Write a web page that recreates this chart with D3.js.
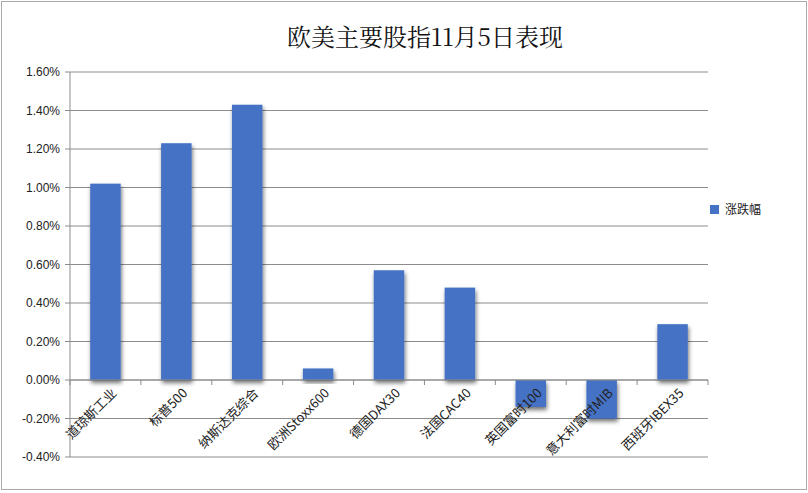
<!DOCTYPE html><html><head><meta charset="utf-8"><script src="https://cdn.jsdelivr.net/npm/d3@7"></script>
<style>body{margin:0;background:#fff}</style></head><body><svg id="c" width="808" height="493"></svg>
<script>
const categories=["道琼斯工业","标普500","纳斯达克综合","欧洲Stoxx600","德国DAX30","法国CAC40","英国富时100","意大利富时MIB","西班牙IBEX35"];
const values=[1.02,1.23,1.43,0.06,0.57,0.48,-0.14,-0.20,0.29];
const yTicks=[-0.4,-0.2,0,0.2,0.4,0.6,0.8,1.0,1.2,1.4,1.6];
const svg=d3.select("#c");
svg.append("rect").attr("x",1.5).attr("y",1.5).attr("width",805).attr("height",488).attr("fill","#fff").attr("stroke","#aaa");
const defs=svg.append("defs");
const f=defs.append("filter").attr("id","sh").attr("x","-20%").attr("y","-20%").attr("width","150%").attr("height","150%");
f.append("feDropShadow").attr("dx",1).attr("dy",3).attr("stdDeviation",2).attr("flood-color","#000").attr("flood-opacity",0.55);
const x=d3.scaleBand().domain(categories).range([70,708]).paddingInner(0.57).paddingOuter(0.285);
const y=d3.scaleLinear().domain([-0.4,1.6]).range([457,72]);
const grid=svg.append("g");
grid.selectAll("line").data(yTicks).join("line").attr("x1",65).attr("x2",708).attr("y1",d=>y(d)).attr("y2",d=>y(d)).attr("stroke","#8c8c8c").attr("stroke-width",1);
svg.append("line").attr("x1",70).attr("x2",70).attr("y1",72).attr("y2",457).attr("stroke","#8c8c8c");
svg.append("g").selectAll("text").data(yTicks).join("text").attr("x",60).attr("y",d=>y(d)+4).attr("text-anchor","end")
 .attr("font-family","Liberation Sans, Arial").attr("font-size",12).attr("fill","#222").text(d=>d.toFixed(2)+"%");
svg.append("g").selectAll("rect").data(values).join("rect")
 .attr("x",(d,i)=>x(categories[i])).attr("width",x.bandwidth())
 .attr("y",d=>y(Math.max(0,d))).attr("height",d=>Math.abs(y(d)-y(0)))
 .attr("fill","#4472c4").attr("filter","url(#sh)");
// zero axis with ticks
svg.append("line").attr("x1",70).attr("x2",708).attr("y1",y(0)).attr("y2",y(0)).attr("stroke","#8c8c8c");
const step=(708-70)/categories.length;
svg.append("g").selectAll("line").data(d3.range(categories.length+1)).join("line")
 .attr("x1",i=>70+i*step).attr("x2",i=>70+i*step).attr("y1",y(0)).attr("y2",y(0)+5).attr("stroke","#8c8c8c");
svg.append("g").selectAll("text").data(categories).join("text")
 .attr("transform",d=>`translate(${x(d)+x.bandwidth()/2+12},${y(0)+14}) rotate(-45)`)
 .attr("text-anchor","end").attr("font-family","Noto Sans CJK SC").attr("font-size",13).attr("fill","#222").text(d=>d);
svg.append("text").attr("x",425).attr("y",46).attr("text-anchor","middle").attr("font-family","Noto Serif CJK SC, Noto Sans CJK SC").attr("font-size",24).attr("fill","#111").text("欧美主要股指11月5日表现");
svg.append("rect").attr("x",710).attr("y",205).attr("width",9).attr("height",9).attr("fill","#4472c4");
svg.append("text").attr("x",725).attr("y",214).attr("font-family","Noto Sans CJK SC").attr("font-size",12).attr("fill","#222").text("涨跌幅");
</script></body></html>
